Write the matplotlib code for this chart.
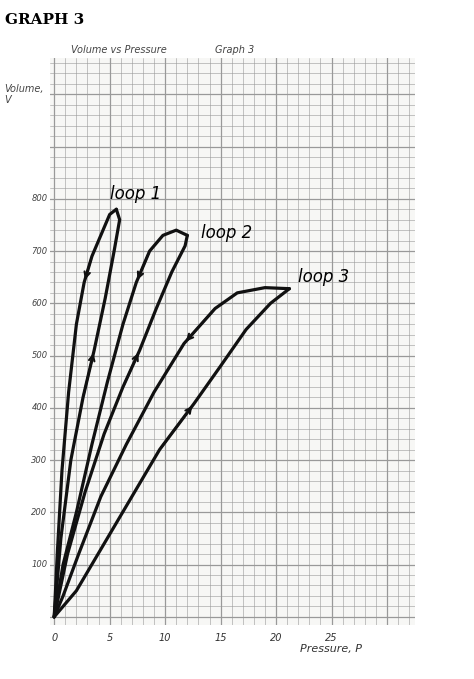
import matplotlib.pyplot as plt
import numpy as np

# loop data (pressure, volume)
loop1_up_p = [0, 0.6, 1.5, 2.6, 3.6, 4.6, 5.4, 5.9, 5.6]
loop1_up_v = [0, 150, 300, 420, 510, 610, 700, 760, 780]
loop1_dn_p = [5.6, 5.0, 4.2, 3.4, 2.7, 2.0, 1.3, 0.7, 0.3, 0]
loop1_dn_v = [780, 770, 730, 690, 640, 560, 430, 280, 130, 0]
loop2_up_p = [0, 1.2, 2.8, 4.5, 6.2, 7.7, 9.2, 10.6, 11.8, 12.0]
loop2_up_v = [0, 120, 240, 350, 440, 510, 590, 660, 710, 730]
loop2_dn_p = [12.0, 11.0, 9.8, 8.6, 7.4, 6.2, 4.8, 3.4, 2.0, 0.8, 0]
loop2_dn_v = [730, 740, 730, 700, 640, 560, 450, 330, 200, 100, 0]
loop3_up_p = [0, 2, 4.5, 7, 9.5, 12.6, 15, 17.3, 19.5, 21.2]
loop3_up_v = [0, 50, 140, 230, 320, 408, 480, 550, 600, 628]
loop3_dn_p = [21.2, 19, 16.5, 14.5, 11.7, 9, 6.5, 4.2, 2.2, 0.8, 0]
loop3_dn_v = [628, 630, 620, 590, 523, 430, 330, 230, 120, 40, 0]

xticks = [0, 5, 10, 15, 20, 25]
yticks = [100, 200, 300, 400, 500, 600, 700, 800]

fig = plt.figure(figsize=(4.74, 6.79), dpi=100)
fig.patch.set_facecolor('white')
fig.text(0.01, 0.965, 'GRAPH 3', fontsize=11, fontweight='bold', family='DejaVu Serif')
ax = fig.add_axes([0.105, 0.08, 0.77, 0.835])
ax.set_facecolor('#f7f7f5')
ax.set_xlim(-0.4, 32.5)
ax.set_ylim(-15, 1070)
for x in np.arange(0, 32.6, 1):
    ax.axvline(x, color='#999999', lw=0.9 if x % 5 == 0 else 0.4, zorder=0)
for y in np.arange(-20, 1070, 20):
    ax.axhline(y, color='#999999', lw=0.9 if y % 100 == 0 else 0.4, zorder=0)
for s in ax.spines.values():
    s.set_visible(False)
ax.set_xticks([]); ax.set_yticks([])
for t in xticks:
    ax.text(t, -30, str(t), ha='center', va='top', fontsize=7, color='#333', style='italic')
ax.text(22.2, -52, 'Pressure, P', fontsize=8, color='#333', style='italic', va='top')
for t in yticks:
    ax.text(-0.6, t, str(t), ha='right', va='center', fontsize=6, color='#444', style='italic')
ax.text(-4.5, 1020, 'Volume,\nV', fontsize=7, color='#444', style='italic', va='top')
ax.text(1.5, 1075, 'Volume vs Pressure', fontsize=7, color='#444', style='italic', va='bottom')
ax.text(14.5, 1075, 'Graph 3', fontsize=7, color='#444', style='italic', va='bottom')

def draw(p, v, idx):
    ax.plot(p, v, color='#111', lw=2.3, solid_capstyle='round', solid_joinstyle='round')
    i = idx
    ax.annotate('', xy=(p[i+1], v[i+1]), xytext=(p[i], v[i]),
                arrowprops=dict(arrowstyle='->', color='#111', lw=1.5))

for (p, v, i) in [(loop1_up_p, loop1_up_v, 3), (loop1_dn_p, loop1_dn_v, 3),
                  (loop2_up_p, loop2_up_v, 4), (loop2_dn_p, loop2_dn_v, 3),
                  (loop3_up_p, loop3_up_v, 4), (loop3_dn_p, loop3_dn_v, 3)]:
    draw(p, v, i)

ax.text(5.0, 800, 'loop 1', fontsize=12, style='italic')
ax.text(13.2, 725, 'loop 2', fontsize=12, style='italic')
ax.text(22.0, 640, 'loop 3', fontsize=12, style='italic')
fig.savefig('out.png', dpi=100)
